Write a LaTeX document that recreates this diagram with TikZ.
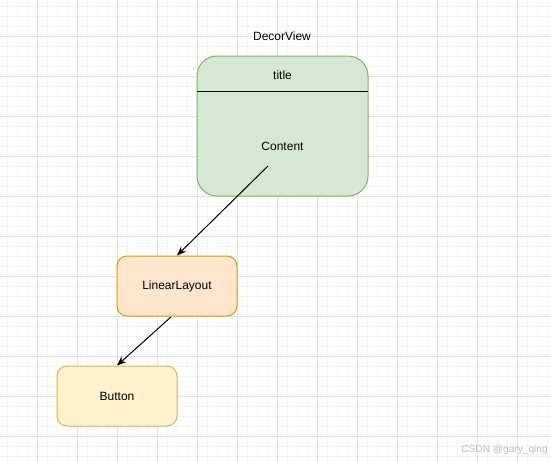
\documentclass[tikz,border=0pt]{standalone}
\usepackage{fontspec}
\setmainfont{Liberation Sans}
\usetikzlibrary{arrows.meta}
\definecolor{gminor}{HTML}{F4F4F4}
\definecolor{gmajor}{HTML}{E2E2E2}
\definecolor{gfill}{HTML}{D5E8D4}
\definecolor{gline}{HTML}{82B366}
\definecolor{ofill}{HTML}{FFE6CC}
\definecolor{oline}{HTML}{D79B00}
\definecolor{yfill}{HTML}{FFF2CC}
\definecolor{yline}{HTML}{D6B656}
\definecolor{wm}{HTML}{BDBDBD}
\begin{document}
\begin{tikzpicture}[x=0.75pt,y=-0.75pt,
  box/.style={draw,line width=0.75pt,rounded corners=7.5pt,minimum width=90pt,minimum height=45pt,inner sep=0pt,font=\fontsize{9}{11}\selectfont},
  lbl/.style={inner sep=0pt,font=\fontsize{9}{11}\selectfont},
  conn/.style={line width=0.75pt,-{Stealth[length=7pt,width=5.5pt]}}]
\useasboundingbox (0,0) rectangle (551,461);
\fill[white] (0,0) rectangle (551,461);
\foreach \i in {0,...,55} {\draw[gminor,line width=0.75pt] (7+10*\i,0) -- (7+10*\i,461);}
\foreach \i in {0,...,46} {\draw[gminor,line width=0.75pt] (0,6+10*\i) -- (551,6+10*\i);}
\foreach \i in {0,...,13} {\draw[gmajor,line width=0.75pt] (37+40*\i,0) -- (37+40*\i,461);}
\foreach \i in {0,...,11} {\draw[gmajor,line width=0.75pt] (0,36+40*\i) -- (551,36+40*\i);}
% DecorView
\node[lbl] (dvlabel) at (282,36) {DecorView};
\node[box,draw=gline,fill=gfill,rounded corners=15pt,minimum width=128.25pt,minimum height=105pt] (decor) at (282.5,126) {};
\coordinate (divl) at (197,91);
\coordinate (divr) at (368,91);
\draw[line width=0.75pt] (divl) -- (divr);
\node[lbl] (title) at (282.5,75) {title};
\node[lbl] (content) at (282.5,146) {Content};
% LinearLayout
\node[box,draw=oline,fill=ofill] (lin) at (177,286) {LinearLayout};
% Button
\node[box,draw=yline,fill=yfill] (btn) at (117,396) {Button};
% connectors
\coordinate (c1) at (268,166);
\coordinate (c2) at (171,317);
\draw[conn] (c1) -- (lin.north);
\draw[conn] (c2) -- (btn.north);
% watermark
\node[inner sep=0pt,anchor=east,text=wm,font=\fontsize{7.6}{9}\selectfont] (wmark) at (548,450) {CSDN @gary\_qing};
\end{tikzpicture}
\end{document}
